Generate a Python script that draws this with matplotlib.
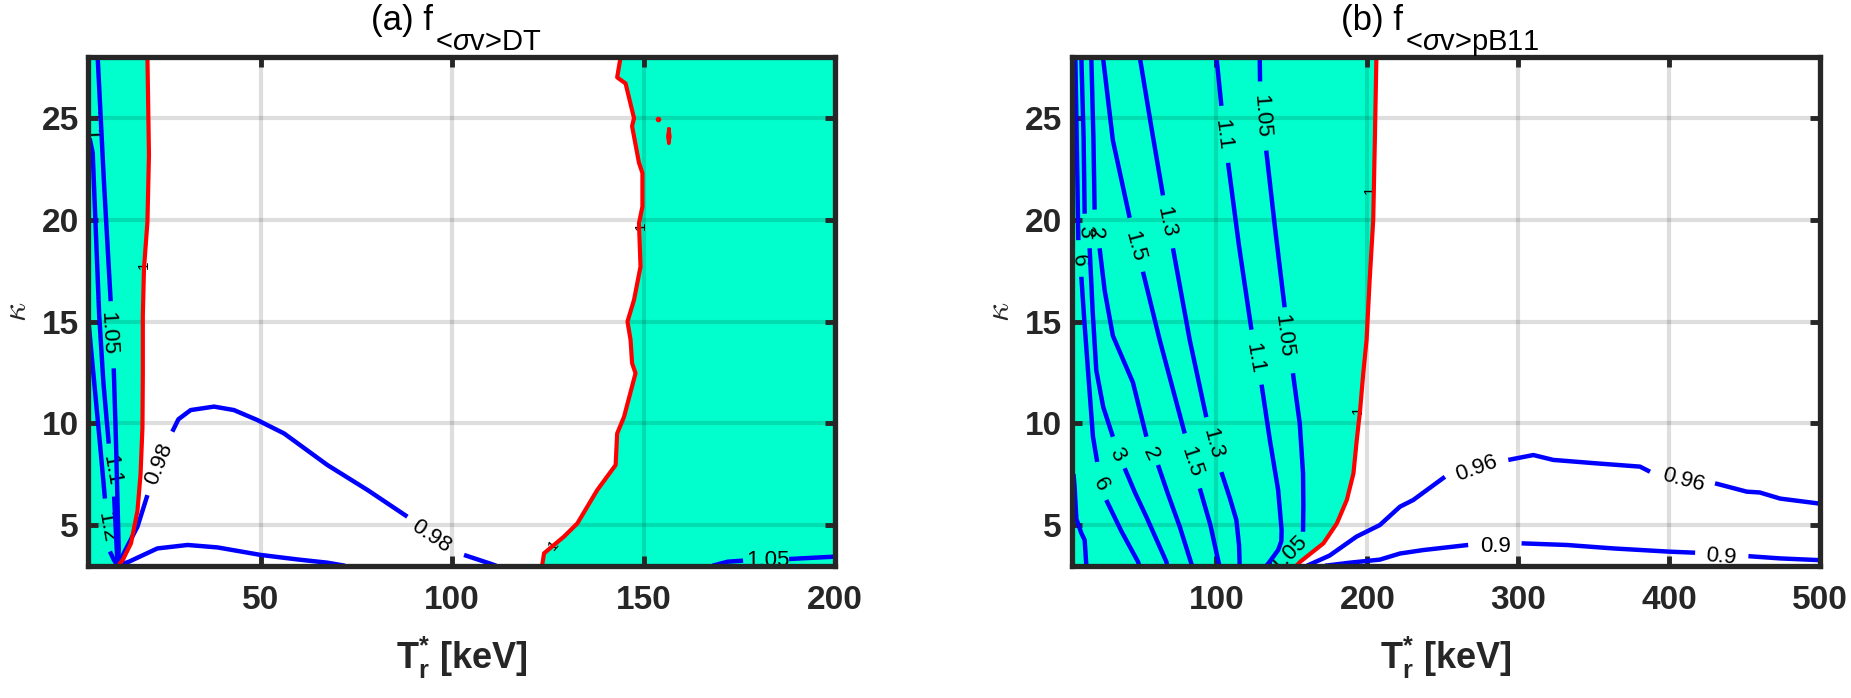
import matplotlib
matplotlib.use('Agg')
import matplotlib.pyplot as plt

plt.rcParams['font.family'] = ['Liberation Sans', 'DejaVu Sans']
plt.rcParams['mathtext.fontset'] = 'custom'
plt.rcParams['mathtext.rm'] = 'Liberation Sans'
plt.rcParams['mathtext.it'] = 'Liberation Sans:italic'
plt.rcParams['mathtext.bf'] = 'Liberation Sans:bold'

CYAN = '#00FFCC'
BLUE = '#0000FF'
RED = '#FF0000'
DARK = '#262626'

# ---------------- panel (a): DT ----------------
# red f=1 contours (kappa ascending)
a_red_left_k = [3.0, 3.3, 4.1, 5.7, 7.5, 9.8, 12.5, 15.3, 17.6, 19.9, 23.2, 28.0]
a_red_left_T = [12.8, 14.0, 16.1, 17.8, 18.6, 19.1, 19.2, 19.2, 19.5, 20.4, 20.8, 20.4]
a_red_right_k = [3.0, 3.61, 4.43, 5.08, 6.72, 7.95, 9.5, 10.32, 12.46, 12.95, 14.1, 15.0,
                 16.06, 17.7, 19.83, 20.65, 22.3, 22.8, 24.6, 25.0, 26.7, 27.0, 28.0]
a_red_right_T = [123.5, 124.0, 129.2, 132.7, 137.9, 142.7, 143.1, 144.9, 147.9, 147.0, 146.6, 145.8,
                 147.5, 149.2, 148.8, 149.7, 149.7, 148.8, 147.0, 147.5, 145.3, 143.1, 144.0]
a_island_T = [156.6, 156.9, 156.6, 156.3, 156.6]
a_island_k = [24.45, 24.1, 23.75, 24.1, 24.45]
a_dot_T = [153.7]
a_dot_k = [24.96]

# blue contour segments (T list, kappa list), broken where labels sit
a_c105 = [([7.4, 9.0, 10.8], [28.0, 22.0, 16.0]),
          ([11.6, 12.2, 12.6, 12.9, 12.7], [12.7, 9.0, 6.0, 3.8, 3.0])]
a_c11 = [([5.3, 6.1, 7.8, 8.9, 10.3], [24.0, 23.3, 15.3, 12.0, 9.0]),
         ([11.7, 12.2, 12.6], [6.4, 4.5, 3.0])]
a_c12 = [([5.0, 6.5, 8.0, 9.3], [15.0, 12.0, 9.0, 6.3]),
         ([10.6, 11.6, 12.6], [3.7, 3.3, 3.0])]
a_c098 = [([12.6, 15.0, 17.8, 20.4], [3.0, 3.9, 4.92, 6.47]),
          ([26.9, 28.5, 31.7, 37.8, 43.0, 49.1, 56.1, 67.4, 77.9, 88.3],
           [9.59, 10.2, 10.65, 10.82, 10.65, 10.16, 9.5, 7.95, 6.72, 5.41]),
          ([103.1, 110.0, 111.5], [3.53, 3.1, 3.0])]
a_clow = [([12.6, 15.6, 19.0, 23.0, 30.9, 38.7, 50.0, 60.0, 67.4, 72.0],
           [3.0, 3.2, 3.5, 3.85, 4.02, 3.9, 3.53, 3.3, 3.15, 3.0])]
a_c105r = [([168.0, 172.0, 176.0], [3.0, 3.2, 3.25]),
           ([188.0, 191.0, 199.3, 200.0], [3.33, 3.36, 3.44, 3.45])]

a_lab_text = ['1.05', '1.1', '1.1', '1.2', '0.98', '0.98', '1.05']
a_lab_T = [10.0, 5.6, 11.1, 9.8, 23.5, 94.4, 182.5]
a_lab_k = [14.4, 24.6, 7.7, 4.9, 8.0, 4.43, 3.25]
a_lab_rot = [-87, -88, -80, -80, 68, -34, 0]
a_one_T = [19.4, 149.2, 126.6]
a_one_k = [17.8, 19.7, 4.0]
a_one_rot = [90, 90, 50]

# ---------------- panel (b): pB11 ----------------
b_red_k = [3.0, 3.2, 4.1, 5.08, 6.23, 7.54, 9.18, 10.65, 12.46, 14.1, 17.0, 20.0, 24.0, 28.0]
b_red_T = [153.0, 155.6, 170.9, 179.8, 186.4, 190.8, 193.0, 195.2, 197.3, 199.5, 201.5, 203.9, 205.0, 206.0]

b_c105 = [([128.7, 128.9], [28.0, 26.8]),
          ([133.0, 139.0, 145.2], [23.4, 19.5, 15.7]),
          ([150.7, 155.2, 157.4, 157.6, 157.4], [12.46, 10.0, 7.54, 6.0, 4.67])]
b_c11 = [([100.0, 103.3], [28.0, 25.6]),
         ([107.7, 115.0, 123.2], [22.8, 18.7, 14.6]),
         ([129.9, 135.4, 140.9, 143.2, 143.0, 140.9, 134.3, 133.0],
          [11.9, 9.18, 6.72, 4.75, 4.2, 3.77, 3.1, 3.0])]
b_c13 = [([49.2, 57.0, 64.6], [28.0, 24.5, 21.2]),
         ([71.2, 82.3, 93.3], [18.6, 14.1, 10.3]),
         ([103.3, 109.0, 113.2, 115.0, 115.4], [7.6, 6.3, 5.25, 4.0, 3.0])]
b_c15 = [([24.8, 31.4, 42.5], [28.0, 23.9, 20.1]),
         ([51.3, 62.4, 79.0], [17.45, 14.1, 9.5]),
         ([89.0, 96.0, 101.1, 102.0], [6.8, 5.0, 3.28, 3.0])]
b_c2 = [([17.1, 18.5, 19.3], [28.0, 24.0, 20.5]),
        ([22.6, 26.0, 31.4, 44.7, 53.6], [18.6, 16.5, 14.3, 12.0, 9.34]),
        ([61.3, 68.0, 75.7, 83.4, 84.0], [7.95, 6.5, 4.92, 3.1, 3.0])]
b_c3 = [([10.5, 12.0, 12.7], [28.0, 24.0, 20.3]),
        ([16.0, 18.0, 20.4, 25.0, 31.4], [18.6, 15.5, 12.6, 10.8, 9.34]),
        ([39.2, 46.0, 53.6, 66.8, 67.5], [7.79, 6.6, 5.4, 3.2, 3.0])]
b_c6 = [([6.5, 7.2, 8.5], [28.0, 25.0, 19.0]),
        ([10.5, 12.5, 14.9, 18.2, 21.0], [17.2, 15.0, 12.6, 9.34, 8.1]),
        ([27.0, 37.0, 48.0, 49.0], [6.23, 4.7, 3.2, 3.0])]
b_chigh = [([5.3, 6.0, 7.2, 10.5, 12.7, 13.8], [7.5, 6.9, 5.3, 4.6, 4.26, 3.0])]
b_c096 = [([160.0, 175.0, 192.8, 208.3, 221.6, 230.4, 251.4], [3.0, 3.5, 4.43, 5.0, 5.9, 6.23, 7.37]),
          ([293.4, 310.0, 323.2, 352.0, 380.7, 387.3], [8.2, 8.44, 8.2, 8.03, 7.87, 7.62]),
          ([430.4, 451.4, 460.0, 473.5, 497.9, 500.0], [7.05, 6.64, 6.6, 6.3, 6.07, 6.05])]
b_c09 = [([172.0, 188.4, 208.3, 221.6, 237.0, 266.8], [3.0, 3.15, 3.3, 3.6, 3.77, 4.02]),
         ([302.2, 332.1, 363.0, 400.6, 417.2], [4.1, 4.02, 3.85, 3.69, 3.64]),
         ([452.5, 473.5, 497.9, 500.0], [3.47, 3.36, 3.28, 3.27])]

b_lab_text = ['1.05', '1.05', '1.05', '1.1', '1.1', '1.3', '1.3', '1.5', '1.5', '2', '2',
              '3', '3', '6', '6', '0.96', '0.96', '0.9', '0.9']
b_lab_T = [129.8, 144.5, 148.0, 104.4, 125.4, 66.8, 97.7, 45.8, 83.5, 19.3, 56.1,
           12.7, 34.0, 9.0, 23.2, 272.4, 409.4, 284.6, 434.0]
b_lab_k = [25.1, 14.3, 3.6, 24.2, 13.2, 19.9, 9.0, 18.7, 8.1, 19.3, 8.5,
           19.4, 8.45, 18.0, 7.0, 7.79, 7.2, 3.93, 3.42]
b_lab_rot = [-86, -83, 45, -83, -80, -78, -75, -75, -72, -85, -65,
             -85, -60, -85, -60, 20, -15, 0, -5]
b_one_T = [201.6, 194.0]
b_one_k = [21.5, 10.65]
b_one_rot = [90, 90]


def draw_segments(ax, segs, color, lw):
    for T, k in segs:
        ax.plot(T, k, color=color, lw=lw, solid_capstyle='butt', zorder=3)


def draw_labels(ax, texts, Ts, ks, rots, size=16, color='black'):
    for s, T, k, r in zip(texts, Ts, ks, rots):
        ax.text(T, k, s, rotation=r, rotation_mode='anchor', ha='center', va='center',
                fontsize=size, color=color, zorder=2.4, clip_on=True)


def style(ax, xlim, xticks):
    ax.set_xlim(xlim)
    ax.set_ylim(3, 28)
    ax.set_xticks(xticks)
    ax.set_yticks([5, 10, 15, 20, 25])
    ax.set_axisbelow(False)
    ax.grid(True, color='black', alpha=0.13, lw=3)
    ax.tick_params(direction='in', length=7, width=3.5, top=True, right=True,
                   color=DARK, labelcolor=DARK, labelsize=24)
    ax.tick_params(axis='x', pad=14)
    ax.tick_params(axis='y', pad=7)
    for lab in ax.get_xticklabels() + ax.get_yticklabels():
        lab.set_fontweight('bold')
    for s in ax.spines.values():
        s.set_linewidth(3.8)
        s.set_color(DARK)
        s.set_zorder(5)
    ax.set_xlabel(r'$\mathbf{T}_\mathbf{r}^\mathbf{*}$ [keV]', fontsize=26, fontweight='bold', color=DARK)
    ax.xaxis.set_label_coords(0.5, -0.135)
    ax.set_ylabel(r'$\kappa$', fontsize=24, color=DARK, math_fontfamily='cm')
    ax.yaxis.set_label_coords(-0.074, 0.5)


fig = plt.figure(figsize=(18.51, 6.98), dpi=100)
ax_a = fig.add_axes([0.0478, 0.1895, 0.4033, 0.7288])
ax_b = fig.add_axes([0.5789, 0.1895, 0.4044, 0.7288])

# panel (a)
ax_a.fill_betweenx(a_red_left_k, 5, a_red_left_T, color=CYAN, lw=0, zorder=1)
ax_a.fill_betweenx(a_red_right_k, a_red_right_T, 200, color=CYAN, lw=0, zorder=1)
for segs in [a_c105, a_c11, a_c12, a_c098, a_clow, a_c105r]:
    draw_segments(ax_a, segs, BLUE, 3.2)
ax_a.plot(a_red_left_T, a_red_left_k, color=RED, lw=3.0, zorder=3)
ax_a.plot(a_red_right_T, a_red_right_k, color=RED, lw=3.0, zorder=3)
ax_a.plot(a_island_T, a_island_k, color=RED, lw=2.4, zorder=3)
ax_a.plot(a_dot_T, a_dot_k, 'o', color=RED, ms=3, zorder=3)
draw_labels(ax_a, a_lab_text, a_lab_T, a_lab_k, a_lab_rot)
draw_labels(ax_a, ['1'] * len(a_one_T), a_one_T, a_one_k, a_one_rot, size=11)
style(ax_a, (5, 200), [50, 100, 150, 200])

# panel (b)
ax_b.fill_betweenx(b_red_k, 4, b_red_T, color=CYAN, lw=0, zorder=1)
for segs in [b_c105, b_c11, b_c13, b_c15, b_c2, b_c3, b_c6, b_chigh, b_c096, b_c09]:
    draw_segments(ax_b, segs, BLUE, 3.2)
ax_b.plot(b_red_T, b_red_k, color=RED, lw=3.0, zorder=3)
draw_labels(ax_b, b_lab_text, b_lab_T, b_lab_k, b_lab_rot)
draw_labels(ax_b, ['1'] * len(b_one_T), b_one_T, b_one_k, b_one_rot, size=11)
style(ax_b, (4, 500), [100, 200, 300, 400, 500])

# titles: main part plus a large subscript, as in the original
fig.text(0.2339, 0.957, '(a) f', fontsize=25, ha='right', va='baseline')
fig.text(0.2350, 0.9284, r'<$\sigma$v>DT', fontsize=21, ha='left', va='baseline')
fig.text(0.7580, 0.957, '(b) f', fontsize=25, ha='right', va='baseline')
fig.text(0.7591, 0.9284, r'<$\sigma$v>pB11', fontsize=21, ha='left', va='baseline')

fig.savefig('out.png', dpi=100)
